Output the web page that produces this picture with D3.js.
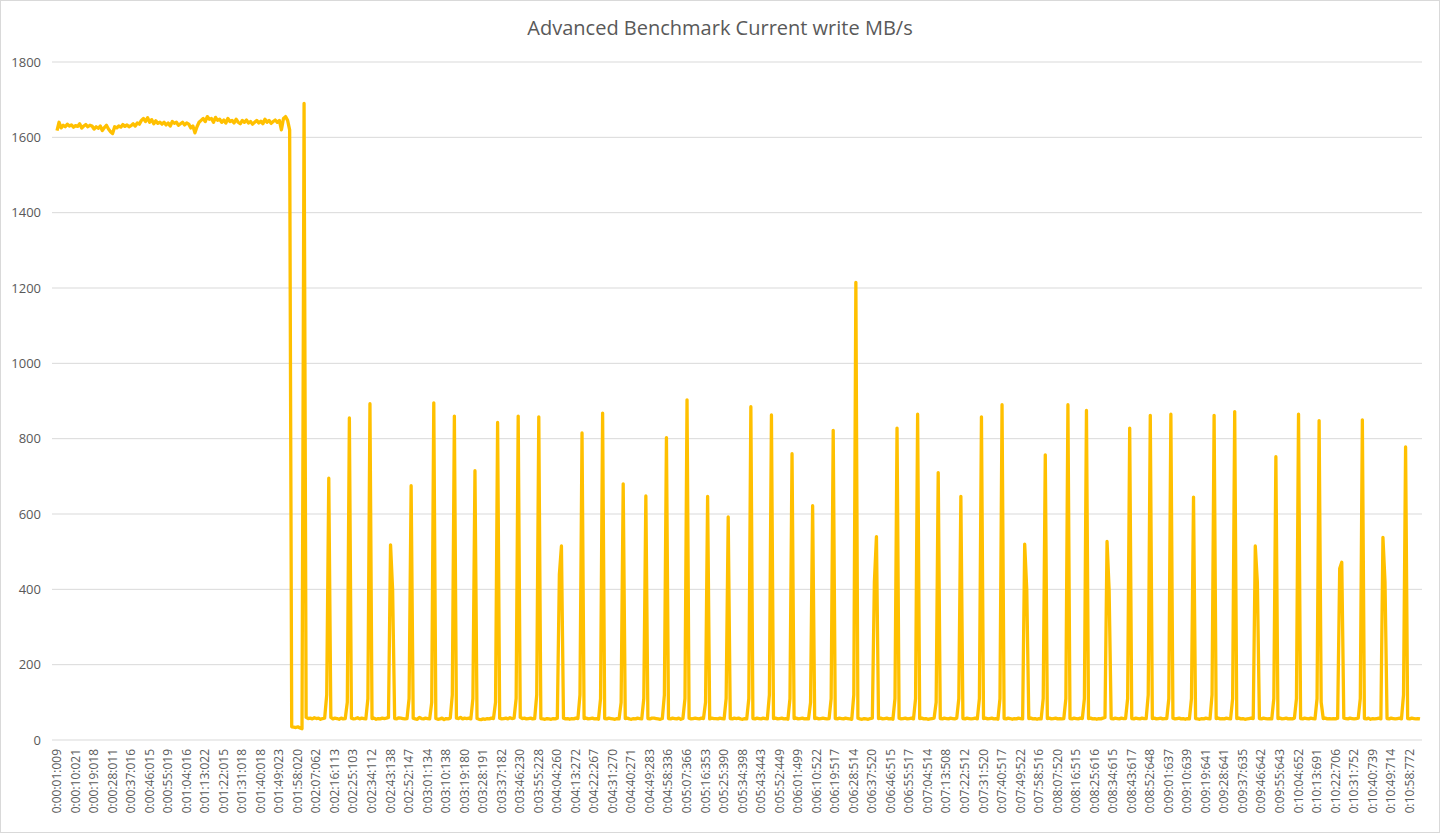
<!DOCTYPE html>
<html><head><meta charset="utf-8">
<script src="https://cdn.jsdelivr.net/npm/d3@7"></script>
<style>html,body{margin:0;padding:0;background:#fff;}svg{display:block;font-family:"Open Sans",sans-serif;}</style>
</head><body>
<script>
const title = "Advanced Benchmark Current write MB/s";
const yTicks = [0,200,400,600,800,1000,1200,1400,1600,1800];
const xLabels = ["0:00:01:009","0:00:10:021","0:00:19:018","0:00:28:011","0:00:37:016","0:00:46:015","0:00:55:019","0:01:04:016","0:01:13:022","0:01:22:015","0:01:31:018","0:01:40:018","0:01:49:023","0:01:58:020","0:02:07:062","0:02:16:113","0:02:25:103","0:02:34:112","0:02:43:138","0:02:52:147","0:03:01:134","0:03:10:138","0:03:19:180","0:03:28:191","0:03:37:182","0:03:46:230","0:03:55:228","0:04:04:260","0:04:13:272","0:04:22:267","0:04:31:270","0:04:40:271","0:04:49:283","0:04:58:336","0:05:07:366","0:05:16:353","0:05:25:390","0:05:34:398","0:05:43:443","0:05:52:449","0:06:01:499","0:06:10:522","0:06:19:517","0:06:28:514","0:06:37:520","0:06:46:515","0:06:55:517","0:07:04:514","0:07:13:508","0:07:22:512","0:07:31:520","0:07:40:517","0:07:49:522","0:07:58:516","0:08:07:520","0:08:16:515","0:08:25:616","0:08:34:615","0:08:43:617","0:08:52:648","0:09:01:637","0:09:10:639","0:09:19:641","0:09:28:641","0:09:37:635","0:09:46:642","0:09:55:643","0:10:04:652","0:10:13:691","0:10:22:706","0:10:31:752","0:10:40:739","0:10:49:714","0:10:58:772"];
const labelEvery = 9;
const plateau = [
1618,1640,1625,1632,1628,1635,1630,1633,1627,1631,
1629,1636,1625,1630,1634,1628,1632,1630,1622,1628,
1624,1630,1618,1626,1632,1622,1615,1610,1628,1625,
1630,1627,1634,1629,1633,1628,1631,1636,1630,1638,
1635,1645,1650,1642,1652,1640,1647,1636,1644,1637,
1640,1635,1640,1633,1638,1630,1642,1637,1640,1632,
1636,1640,1633,1638,1635,1625,1630,1612,1628,1640,
1645,1650,1642,1655,1648,1650,1640,1653,1645,1648,
1640,1646,1638,1650,1642,1645,1638,1648,1640,1636,
1645,1640,1646,1638,1642,1635,1640,1645,1638,1643,
1636,1648,1640,1645,1637,1642,1646,1640,1645,1620,
1650,1655,1645,1620,35,34,33,35,32,30];
const after = [
1690,60,57,58,56,59,57,58,55,57,
58,120,695,60,56,58,57,55,58,56,
57,100,855,58,56,57,59,56,58,57,
56,110,893,57,58,55,57,56,58,57,
58,60,518,400,57,56,59,58,57,56,
57,110,675,58,56,55,60,57,56,58,
57,56,100,895,57,55,56,58,54,57,
56,58,120,860,58,57,60,56,58,57,
58,56,110,715,57,55,54,56,55,57,
56,58,57,100,843,58,56,57,58,56,
59,57,58,110,860,60,57,58,56,57,
58,56,57,120,858,57,56,55,57,56,
55,57,56,58,440,515,58,56,57,55,
57,56,58,57,120,815,57,58,56,57,
58,56,57,55,110,868,57,56,58,57,
56,55,57,56,100,680,57,58,56,55,
57,56,58,57,56,110,648,57,56,58,
58,57,56,55,57,120,803,57,56,58,
57,56,58,55,57,110,903,58,56,57,
58,57,56,58,57,100,647,56,58,57,
57,56,58,57,56,110,592,57,56,58,
57,58,56,55,57,56,110,885,57,56,
58,57,56,58,57,56,120,863,57,58,
56,57,58,56,57,55,110,760,57,58,
56,57,58,56,57,56,100,622,57,58,
56,57,58,57,56,57,110,822,57,56,
58,57,56,58,57,56,55,120,1215,58,
56,55,57,56,55,57,58,420,540,57,
58,56,57,58,56,57,55,110,828,58,
56,57,58,56,57,58,56,110,865,57,
58,56,57,55,56,57,58,100,710,57,
56,58,57,56,58,57,56,58,110,647,
57,56,58,57,56,57,58,56,110,858,
57,58,56,57,58,56,57,55,110,890,
57,56,58,57,55,57,56,58,57,56,
520,400,57,58,56,57,55,57,56,110,
757,57,58,56,57,58,56,57,56,57,
110,890,57,56,58,57,56,58,57,110,
875,57,58,56,57,55,57,56,58,60,
527,400,57,56,58,57,56,58,57,57,
110,828,57,56,58,57,56,58,57,57,
120,862,57,58,56,57,58,56,57,57,
110,865,58,56,57,58,56,57,55,57,
56,110,645,57,56,55,57,56,58,57,
56,120,862,57,58,56,57,56,58,57,
56,110,872,57,58,56,57,55,56,57,
58,57,515,420,57,56,58,57,56,57,
56,110,752,57,58,56,57,58,56,57,
56,58,110,865,57,56,58,57,56,58,
57,56,110,848,100,57,58,56,57,56,
57,56,58,455,472,58,57,56,58,57,
56,57,58,110,850,57,56,58,55,57,
56,57,58,56,538,420,57,56,58,57,
56,57,58,56,120,778,57,56,58,57,
56,57,56];
const values = plateau.concat(after);

const W=1440,H=833;
const svg=d3.select("body").append("svg").attr("width",W).attr("height",H);
svg.append("rect").attr("x",0.5).attr("y",0.5).attr("width",W-1).attr("height",H-1).attr("fill","#fff").attr("stroke","#d9d9d9");
const x=d3.scaleLinear().domain([0,662]).range([57,1420]);
const y=d3.scaleLinear().domain([0,1800]).range([740,62]);
const plotL=52, plotR=1422;
svg.append("g").selectAll("line").data(yTicks).join("line")
 .attr("x1",plotL).attr("x2",plotR).attr("y1",d=>y(d)).attr("y2",d=>y(d))
 .attr("stroke","#d9d9d9").attr("stroke-width",1);
svg.append("g").selectAll("text").data(yTicks).join("text")
 .attr("x",41).attr("y",d=>y(d)).attr("dy","0.35em").attr("text-anchor","end")
 .attr("font-size",13).attr("fill","#595959").text(d=>d);
svg.append("g").selectAll("text").data(xLabels).join("text")
 .attr("transform",(d,i)=>`translate(${x(i*labelEvery)+4},749) rotate(-90)`)
 .attr("text-anchor","end").attr("font-size",12).attr("fill","#595959").text(d=>d);
svg.append("text").attr("x",720).attr("y",35).attr("text-anchor","middle")
 .attr("font-size",20).attr("fill","#595959").text(title);
svg.append("path").datum(values)
 .attr("d",d3.line().x((d,i)=>x(i)).y(d=>y(d)))
 .attr("fill","none").attr("stroke","#FFC000").attr("stroke-width",3.3).attr("stroke-linejoin","round");
</script>
</body></html>
